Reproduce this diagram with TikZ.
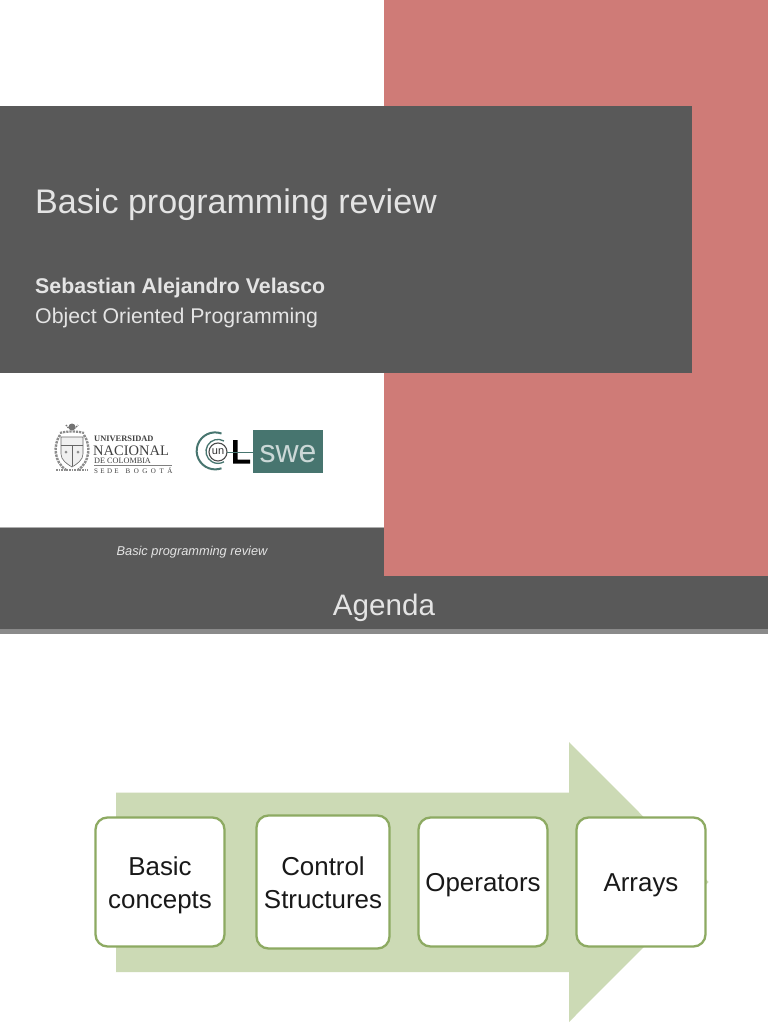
\documentclass[tikz,border=0pt]{standalone}
\usepackage{fontspec}
\setmainfont{Liberation Sans}
\newfontfamily\logoserif{Liberation Serif}
\definecolor{darkband}{HTML}{595959}
\definecolor{salmon}{HTML}{CF7B77}
\definecolor{palegreen}{HTML}{CCDAB5}
\definecolor{boxgreen}{HTML}{8DAA62}
\definecolor{teallogo}{HTML}{47756F}
\definecolor{bandtext}{HTML}{E4E4E4}
\definecolor{bandedge}{HTML}{8A8A8A}
\newcommand{\fsz}[1]{\fontsize{#1}{#1}\selectfont}
\newcommand{\lowerline}{\rule{0pt}{25pt}}
\tikzset{
  agendabox/.style={draw=boxgreen,line width=2.3pt,fill=white,rounded corners=12pt,minimum width=129pt,minimum height=129pt,inner sep=0pt,align=center,text=black!90,font=\fsz{25.9}},
  bandlabel/.style={text=bandtext,inner sep=0pt,anchor=base west},
  logotext/.style={inner sep=0pt,anchor=base west,text=black!75}
}
\begin{document}
\begin{tikzpicture}[x=1pt,y=-1pt]
\useasboundingbox (0,0) rectangle (768,1024);
\fill[white] (0,0) rectangle (768,1024);
\fill[salmon] (384,0) rectangle (768,576);
\fill[darkband] (0,106) rectangle (692,373);
\fill[bandedge!70] (0,527) rectangle (384,528);
\fill[darkband] (0,528) rectangle (384,576);
\fill[darkband] (0,576) rectangle (768,629);
\fill[bandedge] (0,629) rectangle (768,634);
\node[bandlabel,font=\fsz{34.1}] (title) at (35,214) {Basic programming review};
\node[bandlabel,font=\fsz{21.3}\bfseries] (author) at (35,293) {Sebastian Alejandro Velasco};
\node[bandlabel,font=\fsz{21.3}] (course) at (35,323.5) {Object Oriented Programming};
\node[text=bandtext,inner sep=0pt,font=\fsz{12.8}\itshape] (foot) at (192,552.5) {Basic programming review};
\node[text=bandtext,inner sep=0pt,font=\fsz{29.6},anchor=base] (agenda) at (384,615.5) {Agenda};
% crest
\begin{scope}[black!60,line width=0.6pt]
\draw[densely dotted,line width=2.4pt,black!45] (60,435) .. controls (53,445) and (54,462) .. (66,470);
\draw[densely dotted,line width=2.4pt,black!45] (84,435) .. controls (91,445) and (90,462) .. (78,470);
\draw[densely dotted,line width=2.2pt,black!45] (60,433) .. controls (66,431) and (78,431) .. (84,433);
\draw[densely dotted,line width=1.6pt,black!45] (56,470) -- (88,470);
\draw[fill=black!6] (61,437) -- (83,437) -- (83,454) .. controls (83,460) and (77,464) .. (72,467) .. controls (67,464) and (61,460) .. (61,454) -- cycle;
\draw (61,445) -- (83,445);
\draw (72,445) -- (72,466);
\fill[black!55] (72,427) circle (3.5pt);
\draw[densely dotted,line width=1.4pt,black!55] (66,425) .. controls (68,430) and (76,430) .. (78,425);
\fill[black!45] (66,452) circle (1.5pt);
\fill[black!45] (78,452) circle (1.5pt);
\end{scope}
\node[logotext,font=\logoserif\fsz{8.4}\bfseries] (unal1) at (94,441.5) {UNIVERSIDAD};
\node[logotext,font=\logoserif\fsz{14.5}] (unal2) at (93,455) {NACIONAL};
\node[logotext,font=\logoserif\fsz{8.2}] (unal3) at (94,463.5) {DE COLOMBIA};
\draw[black!50,line width=0.4pt] (94,465) -- (172,465);
\node[logotext,font=\logoserif\fsz{7}] (unal4) at (94,473) {S\,\,E\,\,D\,\,E\,\,\,\,\,\,B\,\,\,O\,\,\,G\,\,\,O\,\,\,T\,\,\,Á};
% swe logo
\draw[teallogo,line width=2pt] (221.5,433.5) arc[start angle=70,end angle=290,radius=18.5pt];
\draw[teallogo,line width=1.3pt] (224,441) arc[start angle=60,end angle=300,radius=12pt];
\draw[black!70,line width=1.1pt] (227,452) arc[start angle=0,end angle=360,radius=9pt];
\node[inner sep=0pt,font=\fsz{11},text=black!80] (un) at (218,452) {un};
\fill[black] (233,440) -- (237.5,440) -- (237.5,459.5) -- (250,459.5) -- (250,463.5) -- (233,463.5) -- cycle;
\draw[teallogo,line width=0.8pt] (227,452) -- (253,452);
\fill[teallogo] (253,430) rectangle (323,473);
\node[inner sep=0pt,text=white!72!teallogo,font=\fsz{32},anchor=base] (swe) at (288,462.5) {swe};
% arrow
\fill[palegreen] (116,792.5) -- (569,792.5) -- (569,742) -- (708.5,882) -- (569,1022) -- (569,972) -- (116,972) -- cycle;
\node[agendabox] (b1) at (160,882) {\lowerline Basic\\[7pt]concepts};
\node[agendabox,minimum width=133pt,minimum height=133pt] (b2) at (323,882) {\rule{0pt}{21pt}Control\\[7pt]Structures};
\node[agendabox] (b3) at (483,882) {\lowerline Operators};
\node[agendabox] (b4) at (641,882) {\lowerline Arrays};
\end{tikzpicture}
\end{document}
